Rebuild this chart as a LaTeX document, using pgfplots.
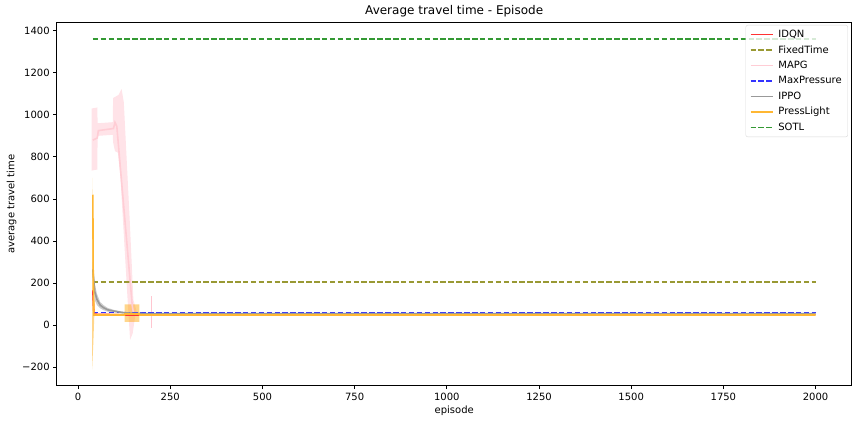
\documentclass[border=0pt]{standalone}
\usepackage{pgfplots}
\pgfplotsset{compat=1.18}
\usepackage{fontspec}
\setmainfont{DejaVu Sans}

% matplotlib colours at alpha 0.8 over white
\colorlet{cRed}{red!80!white}
\definecolor{cOlive}{HTML}{999933}
\definecolor{cPink}{HTML}{FFCDD5}
\definecolor{cBlue}{HTML}{3333FF}
\definecolor{cGray}{HTML}{999999}
\definecolor{cOrange}{HTML}{FFB733}
\definecolor{cGreen}{HTML}{339933}
% fill colours
\definecolor{fPink}{HTML}{FFC0CB}
\definecolor{fGray}{HTML}{808080}
\definecolor{fOrange}{HTML}{FFA500}

\pgfplotsset{mpl/.style={line width=1.6pt}}

\begin{document}
\begin{tikzpicture}
\begin{axis}[
    scale only axis,
    width=795pt, height=363.4pt,
    xmin=-58, xmax=2098,
    ymin=-288, ymax=1440,
    xtick={0,250,500,750,1000,1250,1500,1750,2000},
    ytick={-200,0,200,400,600,800,1000,1200,1400},
    yticklabels={−200,0,200,400,600,800,1000,1200,1400},
    /pgf/number format/assume math mode=true,
    /pgf/number format/1000 sep={},
    tick label style={font=\fontsize{10}{12}\selectfont},
    tick align=outside,
    tick pos=left,
    major tick length=3.5pt,
    axis line style={line width=0.8pt},
    every tick/.style={black, line width=0.8pt},
    title={Average travel time - Episode},
    title style={font=\fontsize{12}{14}\selectfont, yshift=-4.5pt},
    xlabel={episode},
    ylabel={average travel time},
    label style={font=\fontsize{10}{12}\selectfont},
    xlabel style={yshift=1pt},
    ylabel style={yshift=-1pt},
    legend style={
        at={(rel axis cs:0.9953,0.9926)}, anchor=north east,
        draw=black!15, rounded corners=2pt,
        fill=white, fill opacity=0.8, text opacity=1, draw opacity=1,
        font=\fontsize{10}{12}\selectfont,
        row sep=2.5pt, inner xsep=4pt, inner ysep=3pt,
        /tikz/every odd column/.append style={column sep=3pt},
    },
    legend cell align=left,
    legend image code/.code={
        \draw[#1, line width=1.6pt] (0pt,0pt) -- (22pt,0pt);
    },
]

% ---- confidence bands ----
\addplot[forget plot, draw=none, fill=fPink, fill opacity=0.45]
    coordinates {
    (37,1030)(52,1035)(53,960)(94,965)(95,1080)(110,1095)(118,1123)(124,1060)(130,850)(140,500)(150,120)(160,58)(200,55)
    (200,49)(160,47)(155,45)(148,-40)(141,-70)(135,100)(125,400)(115,700)(108,820)(100,827)(95,870)(94,905)(53,900)(52,740)(37,735)
    } -- cycle;
\addplot[forget plot, draw=none, fill=fPink, fill opacity=0.9]
    coordinates {(197,-12)(197,138)(200,138)(200,-12)} -- cycle;
\addplot[forget plot, draw=none, fill=fGray, fill opacity=0.4]
    coordinates {
    (40,300)(45,200)(51,150)(60,110)(69,95)(80,82)(96,73)(120,64)(150,59)(200,56)
    (200,52)(150,53)(120,56)(96,61)(80,64)(69,71)(60,80)(51,96)(45,120)(40,230)
    } -- cycle;
\addplot[forget plot, draw=none, fill=fOrange, fill opacity=0.45]
    coordinates {
    (38,700)(41,300)(44,55)(126,55)(126,99)(166,99)(166,55)(200,54)
    (200,46)(166,45)(166,15)(126,15)(126,45)(44,45)(41,-100)(38,-210)
    } -- cycle;

% ---- mean curves ----
\addplot[cRed, mpl]
    coordinates {
    (40,165)(43,52)(60,51)(100,50)(126,48)(166,48)(200,51)(500,51)(1000,51)(1500,51)(2000,51)
    };
\addlegendentry{IDQN}

\addplot[cOlive, mpl, dash pattern=on 5.5pt off 2.4pt]
    coordinates {(40,206)(2000,206)};
\addlegendentry{FixedTime}

\addplot[cPink, mpl]
    coordinates {
    (40,880)(52,890)(55,925)(96,935)(100,964)(105,946)(147,91)(150,60)(160,53)(200,53)(500,53)(1000,53)(1500,53)(2000,53)
    };
\addlegendentry{MAPG}

\addplot[cBlue, mpl, dash pattern=on 5.5pt off 2.4pt]
    coordinates {(40,60)(2000,60)};
\addlegendentry{MaxPressure}

\addplot[cGray, mpl]
    coordinates {
    (40,265)(45,160)(51,123)(60,95)(69,83)(80,73)(96,67)(120,60)(150,56)(200,54)(500,54)(1000,54)(1500,54)(2000,54)
    };
\addlegendentry{IPPO}

\addplot[cOrange, mpl]
    coordinates {
    (40,620)(41,257)(43,48)(126,48)(127,53)(166,53)(167,48)(200,48)(500,48)(1000,48)(1500,48)(2000,48)
    };
\addlegendentry{PressLight}

\addplot[cGreen, mpl, dash pattern=on 5.5pt off 2.4pt]
    coordinates {(40,1360)(2000,1360)};
\addlegendentry{SOTL}

\end{axis}
% page margins as in the reference (tight bbox with padding)
\path (current axis.south west) ++(-56.7pt,-38.3pt) coordinate (bbsw);
\path (current axis.north east) ++(4.3pt,22.3pt) coordinate (bbne);
\pgfresetboundingbox
\path[use as bounding box] (bbsw) rectangle (bbne);
\end{tikzpicture}
\end{document}
